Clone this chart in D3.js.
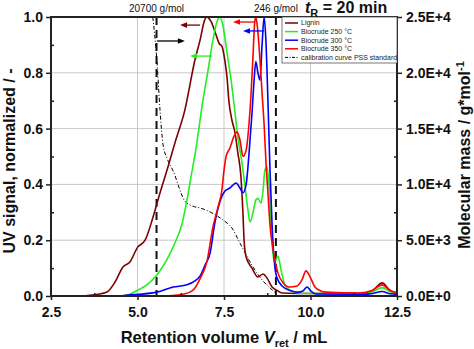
<!DOCTYPE html>
<html>
<head>
<meta charset="utf-8">
<script src="https://cdn.jsdelivr.net/npm/d3@7"></script>
<style>
  body { margin: 0; background: #fff; }
  text { font-family: 'Liberation Sans', Arial, sans-serif; }
</style>
</head>
<body>
<div class="vis-container"></div>
<script>
// Chromatograms as [retention volume / mL, normalized UV signal]
const lignin = [
  [2.5, 0], [3.5, 0.001], [3.75, 0.004], [4.12, 0.014], [4.35, 0.05], [4.58, 0.104],
  [4.78, 0.122], [5.01, 0.176], [5.22, 0.2], [5.45, 0.283], [5.65, 0.369], [5.88, 0.462],
  [6.08, 0.548], [6.37, 0.667], [6.66, 0.846], [6.81, 0.918], [6.93, 0.985], [7.0, 1.0],
  [7.12, 0.985], [7.26, 0.94], [7.36, 0.905], [7.44, 0.895], [7.53, 0.84], [7.59, 0.78],
  [7.64, 0.7], [7.73, 0.63], [7.82, 0.584], [7.9, 0.513], [7.99, 0.427], [8.05, 0.29],
  [8.08, 0.2], [8.14, 0.14], [8.31, 0.1], [8.48, 0.068], [8.63, 0.079], [8.74, 0.065],
  [8.89, 0.032], [9.03, 0.02], [9.18, 0.011], [10.0, 0.009], [11.5, 0.01], [11.8, 0.02],
  [12.07, 0.047], [12.3, 0.02], [12.5, 0.01]
];
const bio250 = [
  [2.5, 0], [4.5, 0], [4.7, 0.003], [4.99, 0.02], [5.27, 0.04], [5.56, 0.075], [5.85, 0.13],
  [6.08, 0.19], [6.29, 0.26], [6.43, 0.344], [6.58, 0.45], [6.68, 0.52], [6.89, 0.7],
  [7.04, 0.81], [7.18, 0.918], [7.3, 0.985], [7.38, 1.0], [7.45, 0.98], [7.59, 0.87],
  [7.73, 0.75], [7.82, 0.656], [7.9, 0.57], [8.02, 0.477], [8.11, 0.39], [8.19, 0.31],
  [8.25, 0.265], [8.34, 0.3], [8.42, 0.344], [8.48, 0.35], [8.57, 0.333], [8.63, 0.38],
  [8.68, 0.45], [8.74, 0.462], [8.8, 0.4], [8.86, 0.255], [8.92, 0.147], [8.97, 0.122],
  [9.06, 0.143], [9.15, 0.093], [9.26, 0.04], [9.41, 0.02], [9.7, 0.01], [11.5, 0.008],
  [11.8, 0.015], [12.07, 0.03], [12.3, 0.015], [12.5, 0.008]
];
const bio300 = [
  [2.5, 0], [4.4, 0], [4.7, 0.003], [5.56, 0.014], [6.03, 0.032], [6.43, 0.04], [6.66, 0.054],
  [6.81, 0.072], [6.95, 0.11], [7.1, 0.155], [7.24, 0.265], [7.38, 0.337], [7.53, 0.376],
  [7.67, 0.387], [7.85, 0.405], [7.96, 0.387], [8.05, 0.37], [8.14, 0.4], [8.22, 0.505],
  [8.31, 0.656], [8.37, 0.774], [8.42, 0.84], [8.48, 0.8], [8.54, 0.774], [8.6, 0.9],
  [8.66, 1.0], [8.71, 0.918], [8.77, 0.7], [8.83, 0.45], [8.89, 0.254], [8.95, 0.13],
  [9.03, 0.065], [9.18, 0.036], [9.41, 0.02], [9.64, 0.014], [9.78, 0.018], [9.9, 0.032],
  [10.01, 0.018], [10.16, 0.007], [11.5, 0.006], [11.8, 0.009], [12.07, 0.016],
  [12.3, 0.008], [12.5, 0.006]
];
const bio350 = [
  [2.5, 0], [5.8, 0], [6.23, 0.004], [6.6, 0.02], [6.81, 0.062], [7.01, 0.125], [7.18, 0.247],
  [7.33, 0.32], [7.44, 0.38], [7.5, 0.45], [7.56, 0.5], [7.67, 0.53], [7.79, 0.573],
  [7.88, 0.588], [7.96, 0.56], [8.05, 0.5], [8.14, 0.523], [8.22, 0.613], [8.28, 0.72],
  [8.34, 0.864], [8.38, 0.97], [8.42, 1.0], [8.47, 0.96], [8.54, 0.846], [8.6, 0.728],
  [8.66, 0.613], [8.71, 0.487], [8.77, 0.369], [8.83, 0.254], [8.92, 0.165], [9.06, 0.082],
  [9.21, 0.047], [9.41, 0.032], [9.61, 0.036], [9.75, 0.057], [9.87, 0.09], [9.99, 0.068],
  [10.13, 0.032], [10.27, 0.02], [10.42, 0.014], [11.43, 0.011], [11.78, 0.02],
  [12.07, 0.04], [12.3, 0.02], [12.5, 0.011]
];
// PSS calibration as [retention volume / mL, molecular mass / g/mol]
const calibration = [
  [5.44, 25000], [5.5, 23300], [5.56, 21150], [5.65, 16670], [5.74, 13530], [5.86, 12300],
  [6.03, 11200], [6.37, 8500], [6.6, 8050], [6.81, 7885], [7.1, 7530], [7.47, 6810],
  [7.73, 6090], [7.96, 4750], [8.34, 2600], [8.63, 1340], [8.83, 720], [9.0, 246]
];

const seriesNames = ['Lignin', 'Biocrude 250 °C', 'Biocrude 300 °C', 'Biocrude 350 °C',
  'calibration curve PSS standard'];
const seriesColors = ['#7d0000', '#22ee22', '#0000ff', '#ff0000', '#000000'];

// exclusion limits marked on the calibration
const limitVolumes = [5.55, 9.0];
const limitLabels = ['20700 g/mol', '246 g/mol'];

// shift arrows: [start volume, end volume, signal level, series index]
const arrows = [
  [6.81, 6.23, 0.971, 0],
  [5.56, 6.37, 0.914, 4],
  [7.15, 6.52, 0.86, 1],
  [8.4, 7.76, 0.982, 3],
  [8.66, 8.05, 0.95, 2]
];

const xTicks = [2.5, 5.0, 7.5, 10.0, 12.5];
const xMinor = [3.75, 6.25, 8.75, 11.25];
const yTicks = [0, 0.2, 0.4, 0.6, 0.8, 1.0];
const yMinor = [0.1, 0.3, 0.5, 0.7, 0.9];
const mTicks = [0, 5000, 10000, 15000, 20000, 25000];
const mMinor = [2500, 7500, 12500, 17500, 22500];

const margin = { top: 17, right: 77, bottom: 53, left: 51 };
const width = 474 - margin.left - margin.right;
const height = 349 - margin.top - margin.bottom;

const svg = d3
  .select('.vis-container')
  .append('svg')
  .attr('width', width + margin.left + margin.right)
  .attr('height', height + margin.top + margin.bottom);

const group = svg
  .append('g')
  .attr('transform', `translate(${margin.left},${margin.top})`);

const xScale = d3.scaleLinear().domain([2.5, 12.5]).range([0, width]);
const yScale = d3.scaleLinear().domain([0, 1]).range([height, 0]);
const mScale = d3.scaleLinear().domain([0, 25000]).range([height, 0]);

// grid
group
  .append('g')
  .selectAll('line')
  .data(xTicks.slice(1, -1))
  .join('line')
  .attr('x1', (d) => xScale(d))
  .attr('x2', (d) => xScale(d))
  .attr('y1', 0)
  .attr('y2', height)
  .attr('stroke', '#c8c8c8');
group
  .append('g')
  .selectAll('line')
  .data(yTicks.slice(1, -1))
  .join('line')
  .attr('x1', 0)
  .attr('x2', width)
  .attr('y1', (d) => yScale(d))
  .attr('y2', (d) => yScale(d))
  .attr('stroke', '#c8c8c8');

group
  .append('clipPath')
  .attr('id', 'plot-clip')
  .append('rect')
  .attr('width', width)
  .attr('height', height);

// dashed exclusion limits
group
  .selectAll('.limit')
  .data(limitVolumes)
  .join('line')
  .attr('class', 'limit')
  .attr('x1', (d) => xScale(d))
  .attr('x2', (d) => xScale(d))
  .attr('y1', 0)
  .attr('y2', height)
  .attr('stroke', '#111')
  .attr('stroke-width', 2)
  .attr('stroke-dasharray', '8,5');

svg
  .selectAll('.limit-label')
  .data(limitLabels)
  .join('text')
  .attr('class', 'limit-label')
  .attr('x', (d, i) => margin.left + xScale(limitVolumes[i]))
  .attr('y', 12)
  .attr('text-anchor', 'middle')
  .attr('font-size', 10)
  .attr('fill', '#111')
  .text((d) => d);

// curves
const line = d3
  .line()
  .curve(d3.curveMonotoneX)
  .x((d) => xScale(d[0]))
  .y((d) => yScale(d[1]));

const calLine = d3
  .line()
  .curve(d3.curveMonotoneX)
  .x((d) => xScale(d[0]))
  .y((d) => mScale(d[1]));

const plot = group.append('g').attr('clip-path', 'url(#plot-clip)');

plot
  .append('path')
  .datum(calibration)
  .attr('fill', 'none')
  .attr('stroke', '#000')
  .attr('stroke-width', 1)
  .attr('stroke-dasharray', '4,2,1,2')
  .attr('d', calLine);

plot
  .selectAll('.trace')
  .data([lignin, bio250, bio300, bio350])
  .join('path')
  .attr('class', 'trace')
  .attr('fill', 'none')
  .attr('stroke', (d, i) => seriesColors[i])
  .attr('stroke-width', 1.6)
  .attr('stroke-linejoin', 'round')
  .attr('d', line);

// arrows
const arrowGroup = group.append('g');
arrows.forEach(([from, to, level, k]) => {
  const x1 = xScale(from);
  const x2 = xScale(to);
  const yy = yScale(level);
  const dir = x2 > x1 ? 1 : -1;
  arrowGroup
    .append('line')
    .attr('x1', x1)
    .attr('x2', x2 - dir * 5)
    .attr('y1', yy)
    .attr('y2', yy)
    .attr('stroke', seriesColors[k])
    .attr('stroke-width', 1.3);
  arrowGroup
    .append('path')
    .attr('d', `M${x2},${yy}L${x2 - dir * 7},${yy - 2.8}L${x2 - dir * 7},${yy + 2.8}Z`)
    .attr('fill', seriesColors[k]);
});

// axes
const tickText = (g) =>
  g
    .selectAll('.tick text')
    .attr('font-size', 14)
    .attr('font-weight', 'bold')
    .attr('fill', '#111');

group
  .append('g')
  .attr('transform', `translate(0,${height})`)
  .call(d3.axisBottom(xScale).tickValues(xTicks).tickFormat(d3.format('.1f')).tickSize(4).tickPadding(7))
  .call((g) => g.select('.domain').remove())
  .call(tickText);
group
  .append('g')
  .attr('transform', `translate(0,${height})`)
  .call(d3.axisBottom(xScale).tickValues(xMinor).tickFormat('').tickSize(-3))
  .call((g) => g.select('.domain').remove());

group
  .append('g')
  .call(d3.axisLeft(yScale).tickValues(yTicks).tickFormat(d3.format('.1f')).tickSize(5))
  .call((g) => g.select('.domain').remove())
  .call(tickText);
group
  .append('g')
  .call(d3.axisLeft(yScale).tickValues(yMinor).tickFormat('').tickSize(-3))
  .call((g) => g.select('.domain').remove());

group
  .append('g')
  .attr('transform', `translate(${width},0)`)
  .call(
    d3
      .axisRight(mScale)
      .tickValues(mTicks)
      .tickFormat((d) => d.toExponential(1).replace('e', 'E'))
      .tickSize(5)
      .tickPadding(4)
  )
  .call((g) => g.select('.domain').remove())
  .call(tickText);
group
  .append('g')
  .attr('transform', `translate(${width},0)`)
  .call(d3.axisRight(mScale).tickValues(mMinor).tickFormat('').tickSize(-3))
  .call((g) => g.select('.domain').remove());

group.selectAll('.tick line').attr('stroke', '#222').attr('stroke-width', 1.5);

// frame
group
  .append('rect')
  .attr('width', width)
  .attr('height', height)
  .attr('fill', 'none')
  .attr('stroke', '#222')
  .attr('stroke-width', 2);

// legend
const legend = group.append('g').attr('transform', `translate(${width - 115},0)`);
legend
  .append('rect')
  .attr('width', 115)
  .attr('height', 46)
  .attr('fill', '#fff')
  .attr('stroke', '#555')
  .attr('stroke-width', 0.8);
const rows = legend
  .selectAll('g')
  .data(seriesNames)
  .join('g')
  .attr('transform', (d, i) => `translate(0,${6 + i * 8.6})`);
rows
  .append('line')
  .attr('x1', 3)
  .attr('x2', 16)
  .attr('stroke', (d, i) => seriesColors[i])
  .attr('stroke-width', (d, i) => (i === 4 ? 1 : 1.5))
  .attr('stroke-dasharray', (d, i) => (i === 4 ? '3,1.5,1,1.5' : null));
rows
  .append('text')
  .attr('x', 19)
  .attr('dy', '0.35em')
  .attr('font-size', 7)
  .attr('fill', '#222')
  .text((d) => d);

// titles
svg
  .append('text')
  .attr('x', margin.left + width / 2)
  .attr('y', 343)
  .attr('text-anchor', 'middle')
  .attr('font-size', 16.5)
  .attr('font-weight', 'bold')
  .attr('fill', '#111')
  .call((t) => {
    t.append('tspan').text('Retention volume ');
    t.append('tspan').attr('font-style', 'italic').text('V');
    t.append('tspan').attr('font-size', 11).attr('dy', 4).text('ret');
    t.append('tspan').attr('dy', -4).text(' / mL');
  });

svg
  .append('text')
  .attr('transform', 'translate(15,161) rotate(-90)')
  .attr('text-anchor', 'middle')
  .attr('font-size', 16)
  .attr('font-weight', 'bold')
  .attr('fill', '#111')
  .text('UV signal, normalized / -');

svg
  .append('text')
  .attr('transform', 'translate(470,155) rotate(-90)')
  .attr('text-anchor', 'middle')
  .attr('font-size', 16)
  .attr('font-weight', 'bold')
  .attr('fill', '#111')
  .call((t) => {
    t.append('tspan').text('Molecular mass / g*mol');
    t.append('tspan').attr('font-size', 11).attr('dy', -6).text('-1');
  });

svg
  .append('text')
  .attr('x', 305)
  .attr('y', 13)
  .attr('font-size', 16)
  .attr('font-weight', 'bold')
  .attr('fill', '#111')
  .call((t) => {
    t.append('tspan').attr('font-style', 'italic').text('t');
    t.append('tspan').attr('font-size', 11).attr('dy', 4).text('R');
    t.append('tspan').attr('dy', -4).text(' = 20 min');
  });
</script>
</body>
</html>
